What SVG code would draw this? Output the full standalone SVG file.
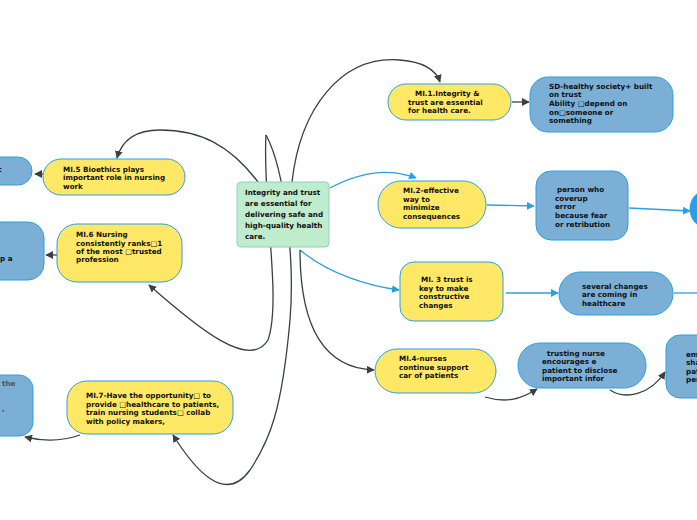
<svg xmlns="http://www.w3.org/2000/svg" width="697" height="520" viewBox="0 0 697 520">
<style>
.y{fill:#ffe866;stroke:#2ba0e0;stroke-width:1}
.b{fill:#7bafd6;stroke:#2ba0e0;stroke-width:1}
.g{fill:#bfeccd;stroke:#8fd0c0;stroke-width:1}
text{font-family:"DejaVu Sans",Verdana,sans-serif;font-weight:bold;font-size:7.2px;fill:#111}
.k{fill:none;stroke:#3a4040;stroke-width:1.3}
.c{fill:none;stroke:#2ba0e0;stroke-width:1.3}
</style>
<defs>
<marker id="ak" viewBox="0 0 10 10" refX="9" refY="5" markerWidth="6" markerHeight="6" orient="auto"><path d="M0,0L10,5L0,10z" fill="#3a4040"/></marker>
<marker id="ac" viewBox="0 0 10 10" refX="9" refY="5" markerWidth="6" markerHeight="6" orient="auto"><path d="M0,0L10,5L0,10z" fill="#2ba0e0"/></marker>
</defs>
<rect width="697" height="520" fill="#fff"/>
<g id="connectors">
<path class="k" d="M292,182 C300,110 340,55 400,60 C425,62 436,70 440,82" marker-end="url(#ak)"/>
<path class="k" d="M512,102 L529,102" marker-end="url(#ak)"/>
<path class="c" d="M330,188 C360,172 390,168 416,178" marker-end="url(#ac)"/>
<path class="c" d="M487,205 L534,206" marker-end="url(#ac)"/>
<path class="c" d="M629,208 L690,211" marker-end="url(#ac)"/>
<path class="c" d="M300,250 C330,275 370,286 399,290" marker-end="url(#ac)"/>
<path class="c" d="M506,293 L558,293" marker-end="url(#ac)"/>
<path class="c" d="M674,293 L697,293"/>
<path class="k" d="M300,250 C300,320 320,368 374,370" marker-end="url(#ak)"/>
<path class="k" d="M485,397 C505,403 520,400 537,389" marker-end="url(#ak)"/>
<path class="k" d="M610,390 C625,400 650,395 665,372" marker-end="url(#ak)"/>
<path class="k" d="M258,182 C230,145 200,130 160,130 C135,130 122,140 117,158" marker-end="url(#ak)"/>
<path class="k" d="M43,174 L35,174" marker-end="url(#ak)"/>
<path class="k" d="M57,255 L46,255" marker-end="url(#ak)"/>
<path class="k" d="M266,135 C285,170 295,260 290,320 C282,410 270,440 250,470 C225,505 195,470 173,435" marker-end="url(#ak)"/>
<path class="k" d="M266,135 C262,200 282,300 268,340 C250,370 200,330 149,285" marker-end="url(#ak)"/>
<path class="k" d="M80,435 C60,442 42,441 25,437" marker-end="url(#ak)"/>
</g>
<g id="center"><rect class="g" x="237" y="182" width="92" height="65" rx="4"/>
<text x="245" y="195">Integrity and trust</text><text x="245" y="206">are essential for</text><text x="245" y="217">delivering safe and</text><text x="245" y="228">high-quality health</text><text x="245" y="239">care.</text></g>
<g id="mi1"><rect class="y" x="388" y="84" width="123" height="36" rx="18"/>
<text x="415" y="96">MI.1.Integrity &amp;</text><text x="408" y="105">trust are essential</text><text x="408" y="113">for  health care.</text></g>
<g id="sd"><rect class="b" x="530" y="77" width="143" height="55" rx="18"/>
<text x="549" y="89">SD-healthy society+ built</text><text x="549" y="97">on trust</text><text x="549" y="106">Ability □depend on</text><text x="549" y="115">on□someone or</text><text x="549" y="123">something</text></g>
<g id="mi2"><rect class="y" x="378" y="181" width="108" height="47" rx="23"/>
<text x="403" y="193">MI.2-effective</text><text x="403" y="202">way to</text><text x="403" y="210">minimize</text><text x="403" y="219">consequences</text></g>
<g id="person"><rect class="b" x="536" y="171" width="92" height="69" rx="15"/>
<text x="557" y="192">person who</text><text x="555" y="201">coverup</text><text x="555" y="209">error</text><text x="555" y="218">because fear</text><text x="555" y="227">or retribution</text></g>
<g id="edge1"><circle class="b" cx="710" cy="209" r="20" fill="#2ba0e0" style="fill:#2ba0e0"/></g>
<g id="mi3"><rect class="y" x="400" y="262" width="103" height="59" rx="14"/>
<text x="421" y="282">MI. 3 trust is</text><text x="419" y="291">key to make</text><text x="419" y="299">constructive</text><text x="419" y="308">changes</text></g>
<g id="changes"><rect class="b" x="559" y="272" width="114" height="43" rx="21"/>
<text x="582" y="289">several changes</text><text x="582" y="297">are coming in</text><text x="582" y="306">healthcare</text></g>
<g id="mi4"><rect class="y" x="375" y="349" width="121" height="44" rx="22"/>
<text x="399" y="361">MI.4-nurses</text><text x="399" y="370">continue support</text><text x="399" y="378">car of patients</text></g>
<g id="trusting"><rect class="b" x="518" y="343" width="128" height="45" rx="22"/>
<text x="547" y="356">trusting nurse</text><text x="542" y="364">encourages e</text><text x="542" y="373">patient to  disclose</text><text x="542" y="381">important infor</text></g>
<g id="edge2"><rect class="b" x="666" y="335" width="60" height="63" rx="14"/>
<text x="686" y="357">em</text><text x="686" y="365">sha</text><text x="686" y="374">pat</text><text x="686" y="382">per</text></g>
<g id="mi5"><rect class="y" x="43" y="159" width="142" height="36" rx="18"/>
<text x="63" y="172">MI.5 Bioethics plays</text><text x="63" y="180">important role in nursing</text><text x="63" y="189">work</text></g>
<g id="edge3"><rect class="b" x="-40" y="157" width="72" height="28" rx="14"/><text x="-2" y="172">t</text></g>
<g id="mi6"><rect class="y" x="57" y="224" width="125" height="58" rx="20"/>
<text x="76" y="237">MI.6 Nursing</text><text x="76" y="246">consistently ranks□1</text><text x="76" y="254">of the most □trusted</text><text x="76" y="262">profession</text></g>
<g id="edge4"><rect class="b" x="-40" y="222" width="84" height="58" rx="16"/><text x="0" y="261">p a</text></g>
<g id="mi7"><rect class="y" x="67" y="381" width="166" height="53" rx="20"/>
<text x="86" y="398">MI.7-Have the opportunity□ to</text><text x="86" y="407">provide □healthcare to patients,</text><text x="86" y="415">train nursing students□ collab</text><text x="86" y="424">with policy makers,</text></g>
<g id="edge5"><rect class="b" x="-40" y="375" width="73" height="61" rx="14"/><text x="2" y="386" style="fill:#555">the</text><text x="2" y="411" style="fill:#555">,</text></g>
</svg>
